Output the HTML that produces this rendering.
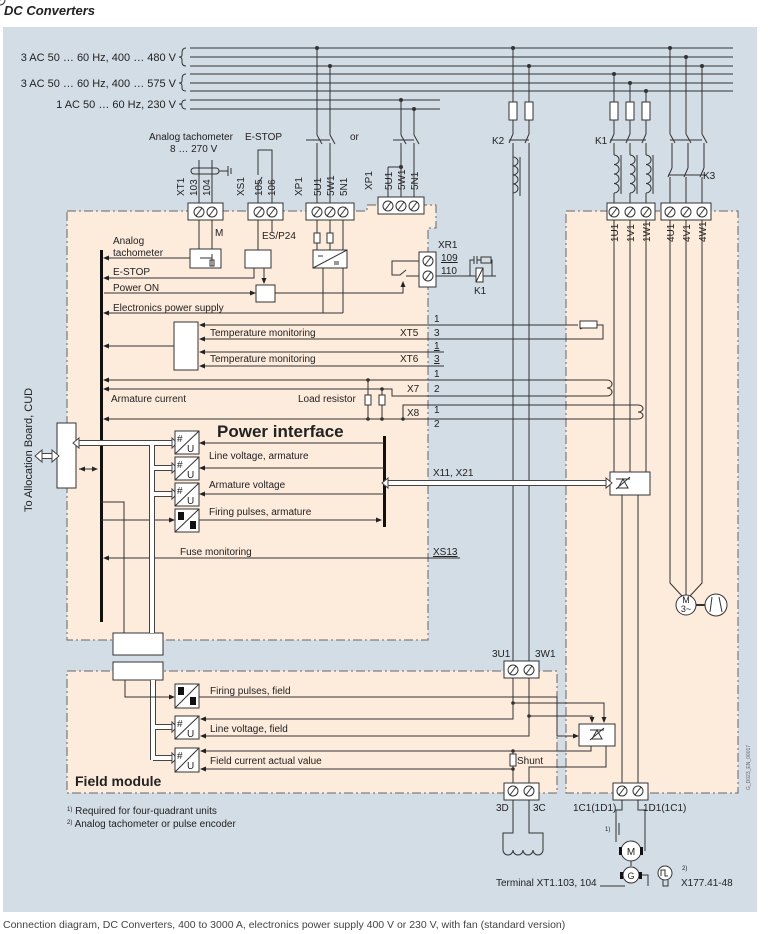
<!DOCTYPE html>
<html><head><meta charset="utf-8"><style>
html,body{margin:0;padding:0;background:#fff;}
svg{display:block;font-family:"Liberation Sans",Arial,sans-serif;}
</style></head><body>
<svg width="768" height="934" viewBox="0 0 768 934" xmlns="http://www.w3.org/2000/svg">
<defs>
<marker id="a" markerWidth="6" markerHeight="6" refX="5" refY="3" orient="auto" markerUnits="userSpaceOnUse"><path d="M0,0.5 L6,3 L0,5.5 z" fill="#222"/></marker>
</defs>
<text x="4" y="15" font-size="13" font-weight="bold" font-style="italic" fill="#222">DC Converters</text>
<rect x="3" y="27" width="754" height="885" fill="#d3dde6"/>
<g fill="#fdebdc" stroke="#666" stroke-width="1" stroke-dasharray="9,3,2,3">
<path d="M67,211 H367 V205 H436 V228 H428 V640 H67 Z"/>
<rect x="67" y="671" width="490" height="122"/>
<rect x="566" y="211" width="172" height="582"/>
</g>
<g fill="#222" font-size="11">
<text x="176" y="61" text-anchor="end">3 AC 50 … 60 Hz, 400 … 480 V</text>
<text x="176" y="87" text-anchor="end">3 AC 50 … 60 Hz, 400 … 575 V</text>
<text x="176" y="108" text-anchor="end">1 AC 50 … 60 Hz, 230 V</text>
</g>
<g stroke="#333" stroke-width="1" fill="none">
<path d="M186,48 Q182,48 182,53 V55 Q182,57 179,57 Q182,57 182,60 V62 Q182,66 186,66"/>
<path d="M186,74 Q182,74 182,79 V81 Q182,83 179,83 Q182,83 182,86 V88 Q182,91 186,91"/>
<path d="M186,100 Q182,100 182,103 Q182,104 179,104 Q182,104 182,106 Q182,109 186,109"/>
<path d="M190,48H733M190,57H733M190,66H733M190,74H733M190,83H733M190,91H733M190,100H440M190,109H440"/>
<path d="M317,48V135 M330,66V135 M317,143V203 M330,143V203 M317,135l5,9 M330,135l5,9 M306,140H330"/>
<path d="M388,167V197 M401,100V135 M414,109V135 M401,143V197 M414,143V197 M401,135l5,9 M414,135l5,9 M393,140H414 M388,167H401"/>
<path d="M513,48V102 M529,66V102 M513,120V134 M529,120V134 M513,143V661 M529,143V661 M513,134l-4,9 M529,134l-4,9 M509,140H529"/>
<rect x="509" y="102" width="8" height="18" fill="#fff"/><rect x="525" y="102" width="8" height="18" fill="#fff"/>
<path d="M513,157 a5,4.5 0 0 1 0,9 a5,4.5 0 0 1 0,9 a5,4.5 0 0 1 0,9 a5,4.5 0 0 1 0,9 M520,157V196"/>
<path d="M614,74V102 M630,83V102 M646,91V102 M614,120V134 M630,120V134 M646,120V134 M614,134l-4,9 M630,134l-4,9 M646,134l-4,9 M610,140H646 M614,143V155 M630,143V155 M646,143V155 M614,193V203 M630,193V203 M646,193V203"/>
<rect x="610" y="102" width="8" height="18" fill="#fff"/><rect x="626" y="102" width="8" height="18" fill="#fff"/><rect x="642" y="102" width="8" height="18" fill="#fff"/>
<path d="M614,155 a5,4.7 0 0 1 0,9.5 a5,4.7 0 0 1 0,9.5 a5,4.7 0 0 1 0,9.5 a5,4.7 0 0 1 0,9.5 M621,155V194"/>
<path d="M630,155 a5,4.7 0 0 1 0,9.5 a5,4.7 0 0 1 0,9.5 a5,4.7 0 0 1 0,9.5 a5,4.7 0 0 1 0,9.5 M637,155V194"/>
<path d="M646,155 a5,4.7 0 0 1 0,9.5 a5,4.7 0 0 1 0,9.5 a5,4.7 0 0 1 0,9.5 a5,4.7 0 0 1 0,9.5 M653,155V194"/>
<path d="M670,48V134 M686,57V134 M702,66V134 M670,134l5,9 M686,134l5,9 M702,134l5,9 M670,140H702 M672,143V168 M688,143V168 M704,143V168 M672,168l-4,9 M688,168l-4,9 M704,168l-4,9 M668,175H706 M670,177V203 M686,177V203 M702,177V203"/>
<path d="M614,220V472 M630,220V472 M646,220V472 M622,495V783 M638,495V783 M670,220V583 L682,596 M686,220V595 M702,220V583 L690,596"/>
</g>
<g fill="#333">
<circle cx="317" cy="48" r="2"/><circle cx="330" cy="66" r="2"/><circle cx="401" cy="100" r="2"/><circle cx="414" cy="109" r="2"/><circle cx="401" cy="167" r="2"/>
<circle cx="513" cy="48" r="2"/><circle cx="529" cy="66" r="2"/><circle cx="614" cy="74" r="2"/><circle cx="630" cy="83" r="2"/><circle cx="646" cy="91" r="2"/>
<circle cx="670" cy="48" r="2"/><circle cx="686" cy="57" r="2"/><circle cx="702" cy="66" r="2"/>
</g>
<g fill="#222" font-size="10">
<text x="149" y="140">Analog tachometer</text><text x="245" y="140">E-STOP</text>
<text x="170" y="152">8 … 270 V</text><text x="350" y="140">or</text>
<text x="492" y="144">K2</text><text x="595" y="144">K1</text><text x="703" y="179">K3</text>
</g>
<g font-size="10" fill="#222">
<text transform="translate(184,196) rotate(-90)">XT1</text>
<text transform="translate(197,196) rotate(-90)">103</text>
<text transform="translate(210,196) rotate(-90)">104</text>
<text transform="translate(244,196) rotate(-90)">XS1</text>
<text transform="translate(262,196) rotate(-90)">105</text>
<text transform="translate(275,196) rotate(-90)">106</text>
<text transform="translate(302,196) rotate(-90)">XP1</text>
<text transform="translate(321,196) rotate(-90)">5U1</text>
<text transform="translate(334,196) rotate(-90)">5W1</text>
<text transform="translate(347,196) rotate(-90)">5N1</text>
<text transform="translate(372,190) rotate(-90)">XP1</text>
<text transform="translate(392,190) rotate(-90)">5U1</text>
<text transform="translate(405,190) rotate(-90)">5W1</text>
<text transform="translate(418,190) rotate(-90)">5N1</text>
<text transform="translate(618,242) rotate(-90)">1U1</text>
<text transform="translate(634,242) rotate(-90)">1V1</text>
<text transform="translate(650,242) rotate(-90)">1W1</text>
<text transform="translate(674,242) rotate(-90)">4U1</text>
<text transform="translate(690,242) rotate(-90)">4V1</text>
<text transform="translate(706,242) rotate(-90)">4W1</text>
<text transform="translate(32,512) rotate(-90)" font-size="11">To Allocation Board, CUD</text>
<text transform="translate(750,790) rotate(-90)" font-size="5" fill="#666">G_D023_EN_00017</text>
</g>
<g stroke="#333" fill="none">
<path d="M199,160V203 M212,160V203 M194,168H216 M194,168a3,3 0 0 0 0,6 H216 a3,3 0 0 0 0,-6 M219,171H228 M228,166V176 M231,168V174"/>
<path d="M258,203V185 l4,-8 M258,175V150H272V203"/>
<path d="M199,220V249 M212,220V249 M258,220V250 M272,220V232 M317,220V233 M330,220V233 M317,243V250 M330,243V250 M343,220V313"/>
<path d="M190,258H104" marker-end="url(#a)"/>
<path d="M254,268V278H104" marker-end="url(#a)"/>
<path d="M264,268V283" marker-end="url(#a)"/>
<path d="M104,293H255" marker-end="url(#a)"/>
<path d="M275,293H403V282" marker-end="url(#a)"/>
<path d="M323,268V313 M343,313H104" marker-end="url(#a)"/>
<path d="M428,261H392V275H400 l6,-5 M428,276H406 M428,276H496 M470,276V260H474 M474,256V264 M477,256V264 M477,260H481 M481,257H491V263H481Z M491,260H492V276"/>
</g>
<rect x="314" y="233" width="6" height="10" fill="#fff" stroke="#333"/>
<rect x="327" y="233" width="6" height="10" fill="#fff" stroke="#333"/>
<g fill="#fff" stroke="#333">
<rect x="190" y="249" width="31" height="19"/>
<rect x="245" y="250" width="26" height="18"/>
<rect x="256" y="285" width="19" height="17"/>
<rect x="313" y="250" width="34" height="18"/>
<rect x="476" y="268" width="7" height="14"/>
<rect x="174" y="322" width="24" height="48"/>
<rect x="57" y="423" width="19" height="65"/>
<rect x="610" y="472" width="40" height="23"/>
<rect x="579" y="724" width="36" height="22"/>
<rect x="113" y="633" width="50" height="22"/>
<rect x="113" y="662" width="50" height="18"/>
</g>
<g stroke="#333" fill="none">
<path d="M200,258H212V254 M212,256V266 M210,260h4v6h-4z"/>
<path d="M313,268L347,250 M318,256h5 M334,262h5 M334,264h5"/>
<path d="M476,282L483,268"/>
</g>
<g font-size="10" fill="#222">
<text x="215" y="236">M</text><text x="262" y="239">ES/P24</text>
<text x="113" y="244">Analog</text><text x="113" y="256">tachometer</text>
<text x="113" y="275">E-STOP</text><text x="113" y="291">Power ON</text>
<text x="113" y="311">Electronics power supply</text>
<text x="438" y="248">XR1</text>
<text x="441" y="261" text-decoration="underline">109</text>
<text x="441" y="274">110</text>
<text x="474" y="294">K1</text>
</g>
<g fill="#fff" stroke="#333">
<rect x="188" y="203" width="35" height="17"/><rect x="248" y="203" width="35" height="17"/>
<rect x="306" y="203" width="48" height="17"/><rect x="378" y="197" width="46" height="17"/>
<rect x="607" y="203" width="48" height="17"/><rect x="661" y="203" width="50" height="17"/>
<rect x="419" y="252" width="17" height="35"/>
<rect x="504" y="661" width="35" height="17"/><rect x="504" y="783" width="35" height="17"/>
<rect x="613" y="783" width="35" height="17"/>
</g>
<g fill="none" stroke="#333">
<g id="s"><circle cx="0" cy="0" r="5"/><path d="M-3,4L3,-4"/></g>
</g>
<g fill="none" stroke="#333">
<use href="#s" x="199" y="212"/><use href="#s" x="212" y="212"/>
<use href="#s" x="259" y="212"/><use href="#s" x="272" y="212"/>
<use href="#s" x="317" y="212"/><use href="#s" x="330" y="212"/><use href="#s" x="343" y="212"/>
<use href="#s" x="388" y="206"/><use href="#s" x="401" y="206"/><use href="#s" x="414" y="206"/>
<use href="#s" x="614" y="212"/><use href="#s" x="630" y="212"/><use href="#s" x="646" y="212"/>
<use href="#s" x="670" y="212"/><use href="#s" x="686" y="212"/><use href="#s" x="702" y="212"/>
<use href="#s" x="428" y="261"/><use href="#s" x="428" y="276"/>
<use href="#s" x="513" y="670"/><use href="#s" x="529" y="670"/>
<use href="#s" x="513" y="791"/><use href="#s" x="529" y="791"/>
<use href="#s" x="622" y="791"/><use href="#s" x="638" y="791"/>
</g>
<rect x="100" y="250" width="3" height="372" fill="#111"/>
<rect x="383" y="436" width="3" height="91" fill="#111"/>
<g stroke="#333" fill="none">
<path d="M174,346H104" marker-end="url(#a)"/>
<path d="M437,325H578 M597,325H603V339H437"/>
<path d="M437,325H200" marker-end="url(#a)"/><path d="M437,339H200" marker-end="url(#a)"/>
<path d="M444,352H200" marker-end="url(#a)"/><path d="M444,366H200" marker-end="url(#a)"/>
<path d="M607,380H104" marker-end="url(#a)"/>
<path d="M607,396H392V389H104" marker-end="url(#a)"/>
<path d="M638,405H403V419"/>
<path d="M638,419H104" marker-end="url(#a)"/>
<path d="M368,380V395 M368,405V419 M382,389V395 M382,405V419"/>
<path d="M607,380a5,4 0 0 1 0,8 a5,4 0 0 1 0,8 M638,405a5,3.5 0 0 1 0,7 a5,3.5 0 0 1 0,7"/>
<path d="M580,329L596,322 M593,322h4"/>
<path d="M384,443H200" marker-end="url(#a)"/>
<path d="M384,468H200" marker-end="url(#a)"/>
<path d="M384,494H200" marker-end="url(#a)"/>
<path d="M199,520H381" marker-end="url(#a)"/>
<path d="M101,520H174" marker-end="url(#a)"/>
<path d="M101,502H124V633"/>
<path d="M460,558H104" marker-end="url(#a)"/>
<path d="M79,469H97" marker-end="url(#a)"/><path d="M97,469H80" marker-end="url(#a)"/>
</g>
<rect x="365" y="395" width="6" height="10" fill="#fff" stroke="#333"/>
<rect x="379" y="395" width="6" height="10" fill="#fff" stroke="#333"/>
<rect x="580" y="321" width="17" height="7" fill="#fff" stroke="#333"/>
<g fill="#333"><circle cx="368" cy="380" r="1.8"/><circle cx="382" cy="389" r="1.8"/><circle cx="368" cy="419" r="1.8"/><circle cx="382" cy="419" r="1.8"/><circle cx="403" cy="419" r="1.8"/></g>
<g fill="none" stroke-linejoin="miter">
<path d="M76,443H172 M152,443V633 M152,468H172 M152,494H172" stroke="#444" stroke-width="6"/>
<path d="M76,443H172 M152,443V633 M152,468H172 M152,494H172" stroke="#fff" stroke-width="4"/>
<path d="M384,483H606" stroke="#444" stroke-width="6"/>
<path d="M386,483H606" stroke="#fff" stroke-width="4"/>
<path d="M40,456H54" stroke="#444" stroke-width="6"/><path d="M40,456H54" stroke="#fff" stroke-width="4"/>
<path d="M153,680V760 M153,727H172 M153,758H172" stroke="#444" stroke-width="6"/>
<path d="M153,680V760 M153,727H172 M153,758H172" stroke="#fff" stroke-width="4"/>
</g>
<g fill="#fff" stroke="#444">
<path d="M172,438l5,5l-5,5z M172,463l5,5l-5,5z M172,489l5,5l-5,5z M172,722l5,5l-5,5z M172,753l5,5l-5,5z"/>
<path d="M606,478l6,5l-6,5z M388,478l-6,5l6,5z M79,438l-6,5l6,5z"/>
<path d="M42,450l-7,6l7,6z M52,450l7,6l-7,6z"/>
</g>
<g fill="#fff" stroke="#333">
<rect x="175" y="431" width="24" height="23"/><rect x="175" y="457" width="24" height="23"/>
<rect x="175" y="483" width="24" height="23"/><rect x="175" y="509" width="24" height="23"/>
<rect x="175" y="684" width="24" height="24"/><rect x="175" y="716" width="24" height="23"/>
<rect x="175" y="748" width="24" height="24"/>
</g>
<g stroke="#333" fill="none">
<path d="M175,454L199,431 M175,480L199,457 M175,506L199,483 M175,532L199,509 M175,708L199,684 M175,739L199,716 M175,772L199,748"/>
<path d="M616,479h14 M623,479l-5,9h10z M616,489L630,477"/>
<path d="M590,730h14 M597,730l-5,9h10z M590,740L604,728"/>
</g>
<g font-size="10" fill="#222">
<text x="177" y="442">#</text><text x="187" y="452">U</text>
<text x="177" y="468">#</text><text x="187" y="478">U</text>
<text x="177" y="494">#</text><text x="187" y="504">U</text>
<text x="177" y="727">#</text><text x="187" y="737">U</text>
<text x="177" y="759">#</text><text x="187" y="769">U</text>
</g>
<g fill="#111"><rect x="178" y="512" width="6" height="8"/><rect x="190" y="521" width="6" height="8"/><rect x="178" y="687" width="6" height="8"/><rect x="190" y="697" width="6" height="8"/></g>
<g font-size="10" fill="#222">
<text x="210" y="336">Temperature monitoring</text><text x="400" y="336">XT5</text>
<text x="210" y="362">Temperature monitoring</text><text x="400" y="362">XT6</text>
<text x="434" y="322">1</text><text x="434" y="336">3</text>
<text x="434" y="349" text-decoration="underline">1</text><text x="434" y="362" text-decoration="underline">3</text>
<text x="434" y="377">1</text><text x="434" y="392">2</text>
<text x="434" y="413">1</text><text x="434" y="427">2</text>
<text x="407" y="392">X7</text><text x="407" y="416">X8</text>
<text x="111" y="402">Armature current</text><text x="298" y="402">Load resistor</text>
<text x="217" y="437" font-size="17" font-weight="bold">Power interface</text>
<text x="209" y="459">Line voltage, armature</text>
<text x="209" y="488">Armature voltage</text>
<text x="209" y="515">Firing pulses, armature</text>
<text x="180" y="555">Fuse monitoring</text>
<text x="433" y="555" text-decoration="underline">XS13</text>
<text x="433" y="476">X11, X21</text>
</g>
<circle cx="686" cy="605" r="10" fill="#fff" stroke="#333"/>
<text x="686" y="603" font-size="9" text-anchor="middle" fill="#222">M</text>
<text x="686" y="612" font-size="9" text-anchor="middle" fill="#222">3~</text>
<path d="M696,605H705" stroke="#333" stroke-width="2"/>
<circle cx="716" cy="605" r="11" fill="#fff" stroke="#333"/>
<path d="M712,597L710,612 M719,597L722,612" stroke="#333"/>
<g stroke="#333" fill="none">
<path d="M125,680V697H174" marker-end="url(#a)"/>
<path d="M199,697H557V736H578" marker-end="url(#a)"/>
<path d="M513,678V719H201" marker-end="url(#a)"/>
<path d="M529,678V736H201" marker-end="url(#a)"/>
<path d="M513,703H604V722" marker-end="url(#a)"/>
<path d="M529,716H592V722" marker-end="url(#a)"/>
<path d="M591,746V751H201" marker-end="url(#a)"/>
<path d="M513,751V783 M513,769H201" marker-end="url(#a)"/>
<path d="M606,746V767H529V783"/>
<path d="M513,800V833H503V850 M543,850V833H529V800"/>
<path d="M503,850a5,5 0 0 0 10,0a5,5 0 0 0 10,0a5,5 0 0 0 10,0a5,5 0 0 0 10,0"/>
<path d="M622,800V810H616V842 M638,800V810H645V851"/>
<path d="M616,823V835 M619,823V835"/>
<path d="M631,861V866 M600,886H625 M637,875H648V886"/>
<path d="M663,880V886H668V880"/>
</g>
<g fill="#333"><circle cx="513" cy="703" r="1.8"/><circle cx="529" cy="716" r="1.8"/><circle cx="513" cy="751" r="1.8"/><circle cx="513" cy="769" r="1.8"/></g>
<rect x="510" y="754" width="6" height="12" fill="#fff" stroke="#333"/>
<circle cx="631" cy="851" r="10" fill="#fff" stroke="#333"/>
<rect x="619" y="847" width="3" height="8" fill="#111"/><rect x="640" y="847" width="3" height="8" fill="#111"/>
<text x="631" y="855" font-size="10" text-anchor="middle" fill="#222">M</text>
<circle cx="631" cy="875" r="8" fill="#fff" stroke="#333"/>
<rect x="620" y="872" width="3" height="7" fill="#111"/><rect x="639" y="872" width="3" height="7" fill="#111"/>
<text x="631" y="879" font-size="9" text-anchor="middle" fill="#222">G</text>
<circle cx="665" cy="873" r="7" fill="#fff" stroke="#333"/>
<path d="M661,876V870H665V876H668" fill="none" stroke="#333"/>
<g font-size="10" fill="#222">
<text x="210" y="694">Firing pulses, field</text>
<text x="210" y="732">Line voltage, field</text>
<text x="210" y="764">Field current actual value</text>
<text x="517" y="764">Shunt</text>
<text x="75" y="786" font-size="14" font-weight="bold">Field module</text>
<text x="492" y="657">3U1</text><text x="535" y="657">3W1</text>
<text x="496" y="811">3D</text><text x="533" y="811">3C</text>
<text x="573" y="811">1C1(1D1)</text><text x="643" y="811">1D1(1C1)</text>
<text x="605" y="831" font-size="6">1)</text>
<text x="682" y="870" font-size="6">2)</text>
<text x="681" y="886">X177.41-48</text>
<text x="496" y="886">Terminal XT1.103, 104</text>
<text x="67" y="814"><tspan font-size="6" dy="-3">1)</tspan><tspan dy="3"> Required for four-quadrant units</tspan></text>
<text x="67" y="827"><tspan font-size="6" dy="-3">2)</tspan><tspan dy="3"> Analog tachometer or pulse encoder</tspan></text>
</g>
<text x="3" y="928" font-size="10.5" fill="#444">Connection diagram, DC Converters, 400 to 3000 A, electronics power supply 400 V or 230 V, with fan (standard version)</text>
</svg>
</body></html>
